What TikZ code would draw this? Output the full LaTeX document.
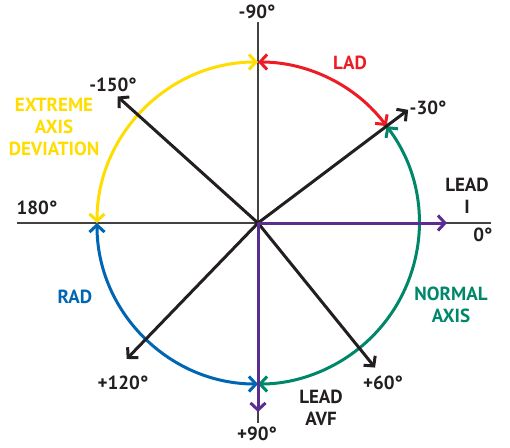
\documentclass[tikz,border=0pt]{standalone}
\usepackage{fontspec}
\setmainfont{PT Sans}
\usetikzlibrary{arrows.meta}
\definecolor{Axis-Y}{RGB}{255, 221, 0}
\definecolor{Axis-R}{RGB}{237, 28, 36}
\definecolor{Axis-G}{RGB}{0, 135, 106}
\definecolor{Axis-B}{RGB}{0, 102, 179}
\definecolor{Axis-P}{RGB}{91, 45, 144}
\definecolor{Axis-K}{RGB}{35, 31, 32}

\begin{document}
\begin{tikzpicture}[x=1pt, y=-1pt, font=\fontsize{19}{22}\selectfont\bfseries,
  tip/.style={line width=3pt, {Straight Barb[length=7pt, width=15pt]}-{Straight Barb[length=7pt, width=15pt]}},
  vec/.style={line width=3pt, -{Straight Barb[length=7pt, width=15pt]}},
  lbl/.style={align=center, inner sep=0pt}]

\useasboundingbox (0,0) rectangle (510,447);

% axes
\draw [line width=1.5pt, Axis-K!85] (17,223) -- (491,223);
\draw [line width=1.5pt, Axis-K!85] (258,22) -- (258,423);

\begin{scope}[shift={(258,223)}]
\coordinate (O) at (0,0);
\coordinate (m150) at (-138:189);
\coordinate (m30) at (-37:188);
\coordinate (p60) at (51:186);
\coordinate (p120) at (134:189);
\coordinate (lI) at (0:189);
\coordinate (aVF) at (90:189);

% ranges on the circle
\draw [tip, Axis-Y] (180:161) arc[start angle=180, end angle=270, radius=161];
\draw [tip, Axis-R] (-90:161) arc[start angle=-90, end angle=-37, radius=161];
\draw [tip, Axis-G] (-37:161) arc[start angle=-37, end angle=90, radius=161];
\draw [tip, Axis-B] (180:161) arc[start angle=180, end angle=90, radius=161];

% leads
\draw [vec, Axis-K] (O) -- (m150);
\draw [vec, Axis-K] (O) -- (m30);
\draw [vec, Axis-K] (O) -- (p60);
\draw [vec, Axis-K] (O) -- (p120);
\draw [vec, Axis-P] (O) -- (lI);
\draw [vec, Axis-P] (O) -- (aVF);
\end{scope}

\node [lbl, text=Axis-K] (n90) at (257,12) {-90°};
\node [lbl, text=Axis-R] (lad) at (350,63) {LAD};
\node [lbl, text=Axis-K] (n30) at (428,108) {-30°};
\node [lbl, text=Axis-K] (leadi) at (467,196) {LEAD\\I};
\node [lbl, text=Axis-K] (zero) at (483,235) {0°};
\node [lbl, text=Axis-G] (norm) at (451,305) {NORMAL\\AXIS};
\node [lbl, text=Axis-K] (p60l) at (383,383) {+60°};
\node [lbl, text=Axis-K] (avf) at (321,408) {LEAD\\AVF};
\node [lbl, text=Axis-K] (p90) at (257,434) {+90°};
\node [lbl, text=Axis-K] (p120l) at (123,383) {+120°};
\node [lbl, text=Axis-B] (rad) at (75,297) {RAD};
\node [lbl, text=Axis-K] (d180) at (37,208) {180°};
\node [lbl, text=Axis-Y] (ext) at (54,127) {EXTREME\\AXIS\\DEVIATION};
\node [lbl, text=Axis-K] (n150) at (113,85) {-150°};

\end{tikzpicture}
\end{document}
